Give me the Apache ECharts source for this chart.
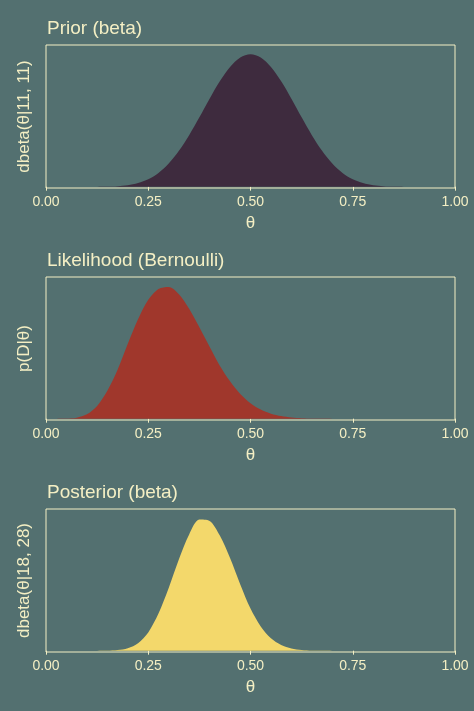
<!DOCTYPE html>
<html><head><meta charset="utf-8">
<script src="https://cdn.jsdelivr.net/npm/echarts@6/dist/echarts.min.js"></script>
<style>html,body{margin:0;padding:0;background:#537070;}#c{width:474px;height:711px;}</style>
</head><body><div id="c"></div>
<script>
const theta = [0,0.025,0.05,0.075,0.1,0.125,0.15,0.175,0.2,0.225,0.25,0.275,0.3,0.325,0.35,0.375,0.4,0.425,0.45,0.475,0.5,
  0.525,0.55,0.575,0.6,0.625,0.65,0.675,0.7,0.725,0.75,0.775,0.8,0.825,0.85,0.875,0.9,0.925,0.95,0.975,1];
const prior = [0,0,0,0,0,0.0002,0.0012,0.0041,0.0115,0.0273,0.056,0.104,0.175,0.271,0.389,0.524,0.665,0.796,0.904,0.975,1,
  0.975,0.904,0.796,0.665,0.524,0.389,0.271,0.175,0.104,0.056,0.0273,0.0115,0.0041,0.0012,0.0002,0,0,0,0,0];
const likelihood = [0,0,0.00064,0.0069,0.033,0.096,0.211,0.37,0.565,0.75,0.898,0.98,0.995,0.94,0.83,0.69,0.543,0.40,0.282,0.187,0.117,
  0.069,0.038,0.02,0.0094,0.004,0.0017,0.0007,0.0002,0,0,0,0,0,0,0,0,0,0,0,0];
const posterior = [0,0,0,0,0,0,0.0007,0.0042,0.0177,0.056,0.138,0.28,0.473,0.69,0.878,0.99,0.98,0.87,0.70,0.50,0.318,
  0.183,0.093,0.042,0.017,0.006,0.0018,0.0005,0.0001,0,0,0,0,0,0,0,0,0,0,0,0];
const titles = ['Prior (beta)','Likelihood (Bernoulli)','Posterior (beta)'];
const yNames = ['dbeta(θ|11, 11)','p(D|θ)','dbeta(θ|18, 28)'];
const colors = ['#3e2b3e','#a0372c','#f3d86b'];
const xTicks = ['0.00','0.25','0.50','0.75','1.00'];
const fg = '#f4efc4';
const ff = 'Liberation Sans';
const tops = [45, 277, 509];
const h = 143;
const sets = [prior, likelihood, posterior];
const chart = echarts.init(document.getElementById('c'));
chart.setOption({
  backgroundColor:'#537070',
  title: titles.map((t,i)=>({text:t,left:42,top:tops[i]-31,textStyle:{color:fg,fontSize:19,fontWeight:'normal',fontFamily:ff}})),
  grid: tops.map(t=>({left:46,width:409,top:t,height:h,show:true,borderColor:fg,borderWidth:1,backgroundColor:'transparent'})),
  xAxis: tops.map((t,i)=>({type:'value',gridIndex:i,min:0,max:1,interval:0.25,
    name:'θ',nameLocation:'middle',nameGap:27,nameTextStyle:{color:fg,fontSize:17,fontFamily:ff},
    axisLine:{show:false},axisTick:{show:true,length:4,lineStyle:{color:fg}},splitLine:{show:false},
    axisLabel:{color:fg,fontSize:14,margin:7,fontFamily:ff,formatter:v=>xTicks[Math.round(v*4)]}})),
  yAxis: tops.map((t,i)=>({type:'value',gridIndex:i,min:-0.01,max:1.07,
    name:yNames[i],nameLocation:'middle',nameGap:13,nameRotate:90,nameTextStyle:{color:fg,fontSize:17,fontFamily:ff},
    axisLine:{show:false},axisTick:{show:false},axisLabel:{show:false},splitLine:{show:false}})),
  series: sets.map((s,i)=>({type:'line',xAxisIndex:i,yAxisIndex:i,smooth:0.3,symbol:'none',
    data:theta.map((x,j)=>[x,s[j]]),lineStyle:{width:0},areaStyle:{color:colors[i],opacity:1,origin:0}}))
});
</script></body></html>
